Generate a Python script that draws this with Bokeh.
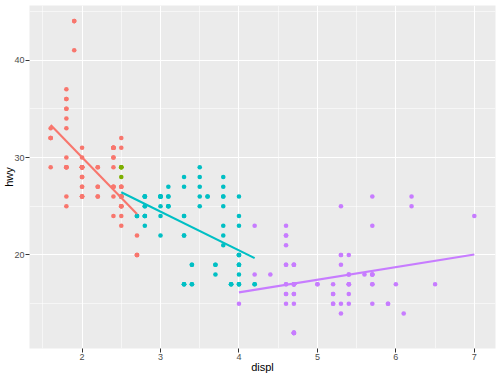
import numpy as np
from bokeh.plotting import figure
from bokeh.models import ColumnDataSource, FixedTicker, Range1d
from bokeh.transform import factor_cmap
from bokeh.embed import file_html
from bokeh.resources import INLINE

# mpg: displ, hwy, cyl
displ = [1.8, 1.8, 2.0, 2.0, 2.8, 2.8, 3.1,
         1.8, 1.8, 2.0, 2.0, 2.8, 2.8, 3.1, 3.1,
         2.8, 3.1, 4.2,
         5.3, 5.3, 5.3, 5.7, 6.0,
         5.7, 5.7, 6.2, 6.2, 7.0,
         5.3, 5.3, 5.7, 6.5,
         2.4, 2.4, 3.1, 3.5, 3.6,
         2.4, 3.0, 3.3, 3.3, 3.3, 3.3, 3.3, 3.8, 3.8, 3.8, 4.0,
         3.7, 3.7, 3.9, 3.9, 4.7, 4.7, 4.7, 5.2, 5.2,
         3.9, 4.7, 4.7, 4.7, 5.2, 5.7, 5.9,
         4.7, 4.7, 4.7, 4.7, 4.7, 4.7, 5.2, 5.2, 5.7, 5.9,
         4.6, 5.4, 5.4,
         4.0, 4.0, 4.0, 4.0, 4.6, 5.0,
         4.2, 4.2, 4.6, 4.6, 4.6, 5.4, 5.4,
         3.8, 3.8, 4.0, 4.0, 4.6, 4.6, 4.6, 4.6, 5.4,
         1.6, 1.6, 1.6, 1.6, 1.6, 1.8, 1.8, 1.8, 2.0,
         2.4, 2.4, 2.4, 2.4, 2.5, 2.5, 3.3,
         2.0, 2.0, 2.0, 2.0, 2.7, 2.7, 2.7,
         3.0, 3.7, 4.0, 4.7, 4.7, 4.7, 5.7, 6.1,
         4.0, 4.2, 4.4, 4.6,
         5.4, 5.4, 5.4,
         4.0, 4.0, 4.6, 5.0,
         2.4, 2.4, 2.5, 2.5, 3.5, 3.5,
         3.0, 3.0, 3.5,
         3.3, 3.3, 4.0, 5.6,
         3.1, 3.8, 3.8, 3.8, 5.3,
         2.5, 2.5, 2.5, 2.5, 2.5, 2.5,
         2.2, 2.2, 2.5, 2.5, 2.5, 2.5, 2.5, 2.5,
         2.7, 2.7, 3.4, 3.4, 4.0, 4.7,
         2.2, 2.2, 2.4, 2.4, 3.0, 3.0, 3.5,
         2.2, 2.2, 2.4, 2.4, 3.0, 3.0, 3.3,
         1.8, 1.8, 1.8, 1.8, 1.8,
         4.7, 5.7,
         2.7, 2.7, 2.7, 3.4, 3.4, 4.0, 4.0,
         2.0, 2.0, 2.0, 2.0, 2.8,
         1.9, 2.0, 2.0, 2.0, 2.0, 2.5, 2.5, 2.8, 2.8,
         1.9, 1.9, 2.0, 2.0, 2.5, 2.5,
         1.8, 1.8, 2.0, 2.0, 2.8, 2.8, 3.6]

hwy = [29, 29, 31, 30, 26, 26, 27,
       26, 25, 28, 27, 25, 25, 25, 25,
       24, 25, 23,
       20, 15, 20, 17, 17,
       26, 23, 26, 25, 24,
       19, 14, 15, 17,
       27, 30, 26, 29, 26,
       24, 24, 22, 22, 24, 24, 17, 22, 21, 23, 23,
       19, 18, 17, 17, 19, 19, 12, 17, 15,
       17, 17, 12, 17, 16, 18, 15,
       16, 12, 17, 17, 16, 12, 15, 16, 17, 15,
       17, 17, 18,
       17, 19, 17, 19, 19, 17,
       17, 17, 16, 16, 17, 15, 17,
       26, 25, 26, 24, 21, 22, 23, 22, 20,
       33, 32, 32, 29, 32, 34, 36, 36, 29,
       26, 27, 30, 31, 26, 26, 28,
       26, 29, 28, 27, 24, 24, 24,
       22, 19, 20, 17, 12, 19, 18, 14,
       15, 18, 18, 15,
       17, 16, 18,
       17, 19, 19, 17,
       29, 27, 31, 32, 27, 26,
       26, 25, 25,
       17, 17, 20, 18,
       26, 26, 27, 28, 25,
       25, 24, 27, 25, 26, 23,
       26, 26, 26, 26, 25, 27, 25, 27,
       20, 20, 19, 17, 20, 17,
       29, 27, 31, 31, 26, 26, 28,
       27, 29, 31, 31, 26, 26, 27,
       30, 33, 35, 37, 35,
       15, 18,
       20, 20, 22, 17, 19, 18, 20,
       29, 26, 29, 29, 24,
       44, 29, 26, 29, 29, 29, 29, 23, 24,
       44, 41, 29, 26, 28, 29,
       29, 29, 28, 29, 26, 26, 26]

cyl = [4, 4, 4, 4, 6, 6, 6,
       4, 4, 4, 4, 6, 6, 6, 6,
       6, 6, 8,
       8, 8, 8, 8, 8,
       8, 8, 8, 8, 8,
       8, 8, 8, 8,
       4, 4, 6, 6, 6,
       4, 6, 6, 6, 6, 6, 6, 6, 6, 6, 6,
       6, 6, 6, 6, 8, 8, 8, 8, 8,
       6, 8, 8, 8, 8, 8, 8,
       8, 8, 8, 8, 8, 8, 8, 8, 8, 8,
       8, 8, 8,
       6, 6, 6, 6, 8, 8,
       6, 6, 8, 8, 8, 8, 8,
       6, 6, 6, 6, 8, 8, 8, 8, 8,
       4, 4, 4, 4, 4, 4, 4, 4, 4,
       4, 4, 4, 4, 6, 6, 6,
       4, 4, 4, 4, 6, 6, 6,
       6, 6, 6, 8, 8, 8, 8, 8,
       8, 8, 8, 8,
       8, 8, 8,
       6, 6, 8, 8,
       4, 4, 4, 4, 6, 6,
       6, 6, 6,
       6, 6, 6, 8,
       6, 6, 6, 6, 8,
       4, 4, 4, 4, 4, 4,
       4, 4, 4, 4, 4, 4, 4, 4,
       4, 4, 6, 6, 6, 8,
       4, 4, 4, 4, 6, 6, 6,
       4, 4, 4, 4, 6, 6, 6,
       4, 4, 4, 4, 4,
       8, 8,
       4, 4, 4, 6, 6, 6, 6,
       4, 4, 4, 4, 6,
       4, 4, 4, 4, 4, 5, 5, 6, 6,
       4, 4, 4, 4, 5, 5,
       4, 4, 4, 4, 6, 6, 6]

cyl_levels = ["4", "5", "6", "8"]
palette = ["#F8766D", "#7CAE00", "#00BFC4", "#C77CFF"]
x_ticks = [2, 3, 4, 5, 6, 7]
x_minor = [1.5, 2.5, 3.5, 4.5, 5.5, 6.5]
y_ticks = [20, 30, 40]
y_minor = [15, 25, 35, 45]

FONT = "Liberation Sans"

p = figure(width=500, height=375, output_backend="svg", toolbar_location=None,
           x_range=Range1d(1.33, 7.27), y_range=Range1d(10.4, 45.6),
           min_border_left=29, min_border_right=5, min_border_top=5,
           min_border_bottom=27)
p.background_fill_color = "#EBEBEB"
p.border_fill_color = "white"
p.outline_line_color = None

xt = FixedTicker(ticks=x_ticks, minor_ticks=x_minor)
yt = FixedTicker(ticks=y_ticks, minor_ticks=y_minor)
p.xaxis.ticker = xt
p.yaxis.ticker = yt
p.xgrid.ticker = xt
p.ygrid.ticker = yt
for g in (p.xgrid, p.ygrid):
    g.grid_line_color = "white"
    g.grid_line_width = 1.1
    g.minor_grid_line_color = "white"
    g.minor_grid_line_width = 0.55

for ax in (p.xaxis, p.yaxis):
    ax.axis_line_color = None
    ax.major_tick_line_color = "#333333"
    ax.major_tick_line_width = 1
    ax.major_tick_in = 0
    ax.major_tick_out = 4
    ax.minor_tick_line_color = None
    ax.major_label_text_color = "#4D4D4D"
    ax.major_label_text_font = FONT
    ax.major_label_text_font_size = "9px"
    ax.major_label_standoff = 1
    ax.axis_label_text_font = FONT
    ax.axis_label_text_font_size = "11px"
    ax.axis_label_text_font_style = "normal"
    ax.axis_label_text_color = "black"
    ax.axis_label_standoff = -2

p.yaxis.axis_label_standoff = -4
p.xaxis.axis_label = "displ"
p.yaxis.axis_label = "hwy"

src = ColumnDataSource(dict(displ=displ, hwy=hwy, cyl=[str(c) for c in cyl]))
p.scatter("displ", "hwy", source=src, size=4.6, line_color=None,
          fill_color=factor_cmap("cyl", palette, cyl_levels))

x_arr = np.array(displ, dtype=float)
y_arr = np.array(hwy, dtype=float)
c_arr = np.array(cyl)
for lev, col in zip(cyl_levels, palette):
    m = c_arr == int(lev)
    xs = x_arr[m]
    ys = y_arr[m]
    if np.ptp(xs) == 0:
        continue
    b, a = np.polyfit(xs, ys, 1)
    lx = [xs.min(), xs.max()]
    ly = [a + b * v for v in lx]
    p.line(lx, ly, line_color=col, line_width=2.1)

open("out.html", "w").write(file_html(p, INLINE))
